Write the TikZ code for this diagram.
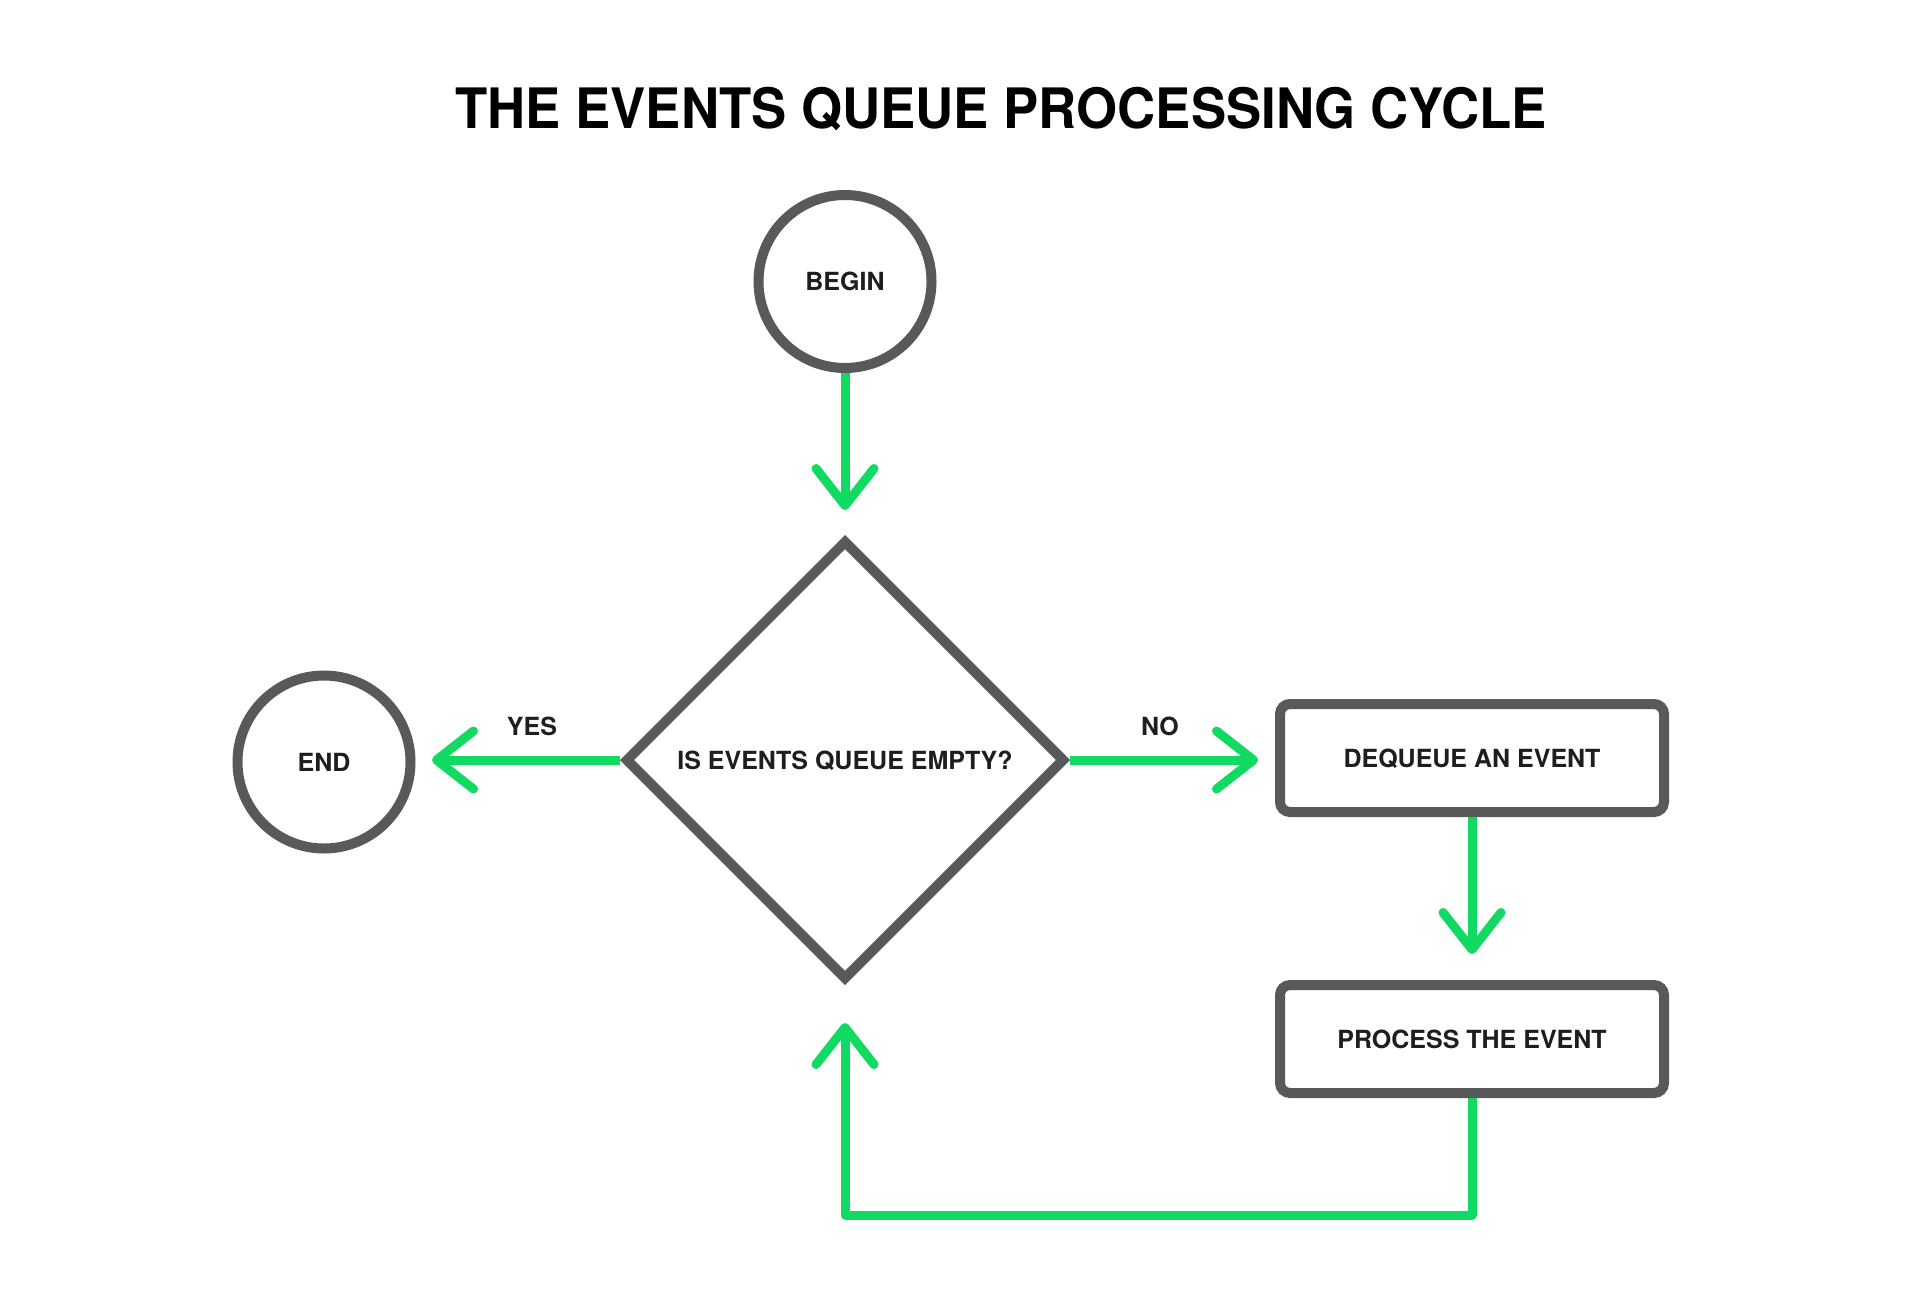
\documentclass[tikz,border=0pt]{standalone}
\usepackage{fontspec}
\setmainfont{TeX Gyre Heros}
\newfontfamily\titlefont[FakeStretch=0.947]{TeX Gyre Heros}
\usetikzlibrary{shapes.geometric,arrows.meta}
\definecolor{lineGray}{HTML}{58595B}
\definecolor{flowGreen}{RGB}{16,218,98}
\definecolor{txt}{HTML}{1E1E1E}
\pgfdeclarelayer{bg}
\pgfsetlayers{bg,main}
\begin{document}
\begin{tikzpicture}[x=1pt,y=-1pt,
  lbl/.style={font=\bfseries\fontsize{25}{30}\selectfont, text=txt, inner sep=0pt, text height=18pt, text depth=0pt},
  term/.style={circle, draw=lineGray, line width=10pt, minimum size=173pt, fill=white, lbl},
  procbox/.style={rectangle, rounded corners=10pt, draw=lineGray, line width=10pt, minimum width=384pt, minimum height=108pt, fill=white, lbl},
  decision/.style={diamond, aspect=1, draw=lineGray, line width=10pt, minimum width=440pt, minimum height=440pt, fill=white, lbl},
  flow/.style={draw=flowGreen, line width=9pt, line join=round, -{Straight Barb[length=37pt,width=58pt,round]}},
  titlestyle/.style={font=\titlefont\bfseries\fontsize{55.7}{60}\selectfont, text=black, inner sep=0pt, anchor=base}
]
\useasboundingbox (0,0) rectangle (1920,1301);
\begin{pgfonlayer}{bg}
\fill[white] (0,0) rectangle (1920,1301);
\end{pgfonlayer}

\node[titlestyle] (title) at (1001,128) {THE EVENTS QUEUE PROCESSING CYCLE};

\node[term] (begin) at (845,281.5) {BEGIN};
\node[decision] (dia) at (845,760) {IS EVENTS QUEUE EMPTY?};
\node[term] (end) at (324,762) {END};
\node[procbox] (deq) at (1472,758) {DEQUEUE AN EVENT};
\node[procbox] (proc) at (1472,1039) {PROCESS THE EVENT};

\node[lbl] (yes) at (532,726) {YES};
\node[lbl] (no) at (1160,726) {NO};

\coordinate (tipA) at (845,510);
\coordinate (tipYes) at (432,760);
\coordinate (tipNo) at (1258,760);
\coordinate (tipDeq) at (1472,954);
\coordinate (bend) at (845,1215);
\coordinate (tipRet) at (845,1023);

\begin{pgfonlayer}{bg}
\draw[flow] (begin.south) -- (tipA);
\draw[flow] (dia.west) -- (tipYes);
\draw[flow] (dia.east) -- (tipNo);
\draw[flow] (deq.south) -- (tipDeq);
\draw[flow] (proc.south) |- (bend) -- (tipRet);
\end{pgfonlayer}
\end{tikzpicture}
\end{document}
